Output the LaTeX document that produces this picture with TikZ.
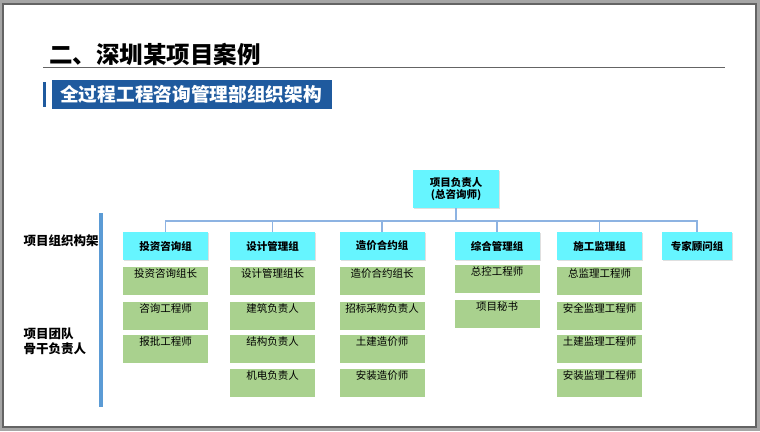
\documentclass[tikz,border=0pt]{standalone}
\usepackage{fontspec}
\newfontfamily\cjk{Noto Sans CJK SC}
\usepackage{tikz}
\usetikzlibrary{positioning, shadows}

\definecolor{slidegray}{HTML}{A6A6A6}
\definecolor{framegray}{HTML}{646464}
\definecolor{titleblue}{HTML}{1F5A9E}
\definecolor{grpcyan}{HTML}{66F5FF}
\definecolor{mbrgreen}{HTML}{A9D18E}
\definecolor{connblue}{HTML}{8DB3E2}
\definecolor{barblue}{HTML}{5B9BD5}

\begin{document}
\begin{tikzpicture}[
  x=1pt, y=-1pt,
  font=\cjk,
  grp/.style={fill=grpcyan, minimum width=85pt, minimum height=28pt,
              inner sep=1pt, align=center, font=\cjk\fontsize{10.5}{12}\selectfont\bfseries,
              drop shadow={shadow xshift=1pt, shadow yshift=-1pt, opacity=0.25}},
  mbr/.style={fill=mbrgreen, minimum width=85pt, inner xsep=1pt, inner ysep=1pt,
              text height=9.5pt, text depth=16.5pt,
              font=\cjk\fontsize{10.5}{12}\selectfont},
  conn/.style={draw=connblue, line width=1.3pt},
  side/.style={font=\cjk\fontsize{12.5}{15}\selectfont\bfseries, align=left, anchor=west}
]
\useasboundingbox (0,0) rectangle (760,431);
% slide frame
\fill[slidegray] (0,0) rectangle (760,431);
\filldraw[fill=white, draw=framegray, line width=1.5pt] (3,4) rectangle (756,427);

% headings
\node[anchor=south west, inner sep=0pt, font=\cjk\fontsize{23.5}{26}\selectfont\bfseries]
  (title) at (49,66) {二、深圳某项目案例};
\draw[framegray, line width=1pt] (43,67) -- (725,67);
\fill[titleblue] (43,82) rectangle (45.5,107);
\node[fill=titleblue, text=white, anchor=north west, minimum width=280pt, minimum height=29pt,
      inner xsep=8pt, align=left, text width=264pt, font=\cjk\fontsize{18.7}{22}\selectfont\bfseries]
  (sub) at (52,80) {全过程工程咨询管理部组织架构};

% side labels
\draw[barblue, line width=3.5pt] (101,213) -- (101,407);
\node[side] (lorg) at (20,241) {项目组织构架};
\node[side] (lteam) at (20,341) {项目团队\\骨干负责人};

% head
\node[grp, minimum width=86pt, minimum height=38pt] (lead) at (456,189) {项目负责人\\(总咨询师)};

% groups
\node[grp] (tzzx) at (165.5,246) {投资咨询组};
\node[grp] (sjgl) at (272.5,246) {设计管理组};
\node[grp] (zjhy) at (382,246) {造价合约组};
\node[grp] (zhgl) at (497,246) {综合管理组};
\node[grp] (sgjl) at (599.5,246) {施工监理组};
\node[grp, minimum width=70pt] (zjgw) at (697,246) {专家顾问组};

% connectors
\coordinate (bus) at (456,221);
\draw[conn] (lead.south) -- (bus);
\draw[conn] (tzzx.north) |- (bus) -| (zjgw.north);
\foreach \g in {sjgl,zjhy,zhgl,sgjl}
  \draw[conn] (\g.north) -- (\g.north |- bus);

% members
\node[mbr] (tz1) at (165.5,281) {投资咨询组长};
\node[mbr] (tz2) at (165.5,316) {咨询工程师};
\node[mbr] (tz3) at (165.5,349) {报批工程师};

\node[mbr] (sj1) at (272.5,281) {设计管理组长};
\node[mbr] (sj2) at (272.5,316) {建筑负责人};
\node[mbr] (sj3) at (272.5,349) {结构负责人};
\node[mbr] (sj4) at (272.5,383) {机电负责人};

\node[mbr] (zj1) at (382,281) {造价合约组长};
\node[mbr] (zj2) at (382,316) {招标采购负责人};
\node[mbr] (zj3) at (382,349) {土建造价师};
\node[mbr] (zj4) at (382,383) {安装造价师};

\node[mbr] (zh1) at (497,279) {总控工程师};
\node[mbr] (zh2) at (497,314) {项目秘书};

\node[mbr] (sg1) at (599.5,281) {总监理工程师};
\node[mbr] (sg2) at (599.5,316) {安全监理工程师};
\node[mbr] (sg3) at (599.5,349) {土建监理工程师};
\node[mbr] (sg4) at (599.5,383) {安装监理工程师};
\end{tikzpicture}
\end{document}
